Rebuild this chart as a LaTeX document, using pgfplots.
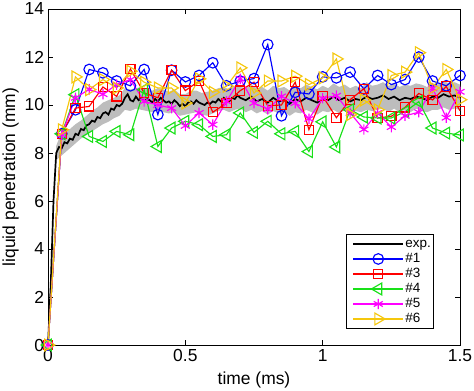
\documentclass[border=0pt]{standalone}
\usepackage{fontspec}
\setmainfont{Liberation Sans}
\usepackage{pgfplots}
\usepackage{pgfplotstable}
\pgfplotsset{compat=1.18}
\usepgfplotslibrary{fillbetween}
\definecolor{cblue}{rgb}{0,0,1}
\definecolor{cred}{rgb}{1,0,0}
\definecolor{cgreen}{rgb}{0.1,0.88,0.1}
\definecolor{cmag}{rgb}{1,0,1}
\definecolor{cyel}{rgb}{0.96,0.78,0.05}
\definecolor{cband}{rgb}{0.74,0.74,0.74}

\pgfplotstableread{
x y
0 0
0.01 2.5
0.02 6.0
0.03 8.0
0.04 8.25
0.05 8.2
0.06 8.45
0.07 8.4
0.08 8.6
0.09 8.55
0.10 8.8
0.11 8.75
0.12 9.0
0.13 8.95
0.14 9.15
0.15 9.2
0.16 9.35
0.17 9.3
0.18 9.5
0.19 9.45
0.20 9.65
0.21 9.7
0.22 9.6
0.23 9.85
0.24 9.8
0.25 10.0
0.26 9.95
0.27 10.05
0.28 10.3
0.29 10.45
0.30 10.2
0.31 10.15
0.32 10.35
0.33 10.2
0.34 10.3
0.35 10.15
0.36 10.25
0.37 10.2
0.38 10.1
0.39 10.25
0.40 10.15
0.41 10.3
0.42 10.2
0.43 10.1
0.44 10.15
0.45 10.05
0.46 10.2
0.47 10.1
0.48 9.95
0.49 10.05
0.50 9.95
0.51 10.1
0.52 10.15
0.53 10.05
0.54 10.2
0.55 10.1
0.56 10.05
0.57 10.0
0.58 10.1
0.59 10.05
0.60 10.15
0.61 10.1
0.62 10.25
0.63 10.15
0.64 10.3
0.65 10.2
0.66 10.15
0.67 10.3
0.68 10.25
0.69 10.4
0.70 10.3
0.72 10.2
0.74 10.35
0.76 10.15
0.78 10.25
0.80 10.1
0.82 10.3
0.84 10.15
0.86 10.2
0.88 10.05
0.90 10.25
0.92 10.15
0.94 10.3
0.96 10.2
0.98 10.1
1.00 10.25
1.02 10.2
1.04 10.35
1.06 10.2
1.08 10.3
1.10 10.15
1.12 10.25
1.14 10.2
1.16 10.35
1.18 10.25
1.20 10.3
1.22 10.4
1.24 10.25
1.26 10.35
1.28 10.2
1.30 10.3
1.32 10.25
1.34 10.35
1.36 10.3
1.38 10.2
1.40 10.35
1.42 10.3
1.44 10.45
1.46 10.35
1.48 10.4
1.50 10.3
}\exptable

\pgfplotstableread{
x lo hi
0.03 7.7 8.3
0.04 7.8 8.6
0.06 8.0 8.9
0.08 8.2 9.0
0.10 8.4 9.2
0.12 8.6 9.35
0.14 8.75 9.55
0.16 8.9 9.75
0.18 9.05 9.9
0.20 9.2 10.1
0.22 9.3 10.2
0.24 9.45 10.3
0.26 9.55 10.4
0.28 9.8 10.7
0.30 9.75 10.65
0.32 9.85 10.7
0.34 9.8 10.75
0.36 9.75 10.65
0.38 9.7 10.6
0.40 9.75 10.7
0.42 9.7 10.65
0.44 9.65 10.55
0.46 9.7 10.65
0.48 9.55 10.45
0.50 9.6 10.45
0.52 9.65 10.6
0.54 9.7 10.6
0.56 9.6 10.5
0.58 9.55 10.55
0.60 9.65 10.6
0.62 9.75 10.7
0.64 9.8 10.75
0.66 9.7 10.65
0.68 9.8 10.8
0.70 9.85 10.75
0.72 9.7 10.7
0.74 9.8 10.85
0.76 9.65 10.7
0.78 9.75 10.75
0.80 9.6 10.6
0.82 9.75 10.8
0.84 9.65 10.7
0.86 9.7 10.75
0.88 9.55 10.6
0.90 9.7 10.8
0.92 9.65 10.7
0.94 9.8 10.85
0.96 9.7 10.75
0.98 9.6 10.65
1.00 9.75 10.8
1.02 9.7 10.7
1.04 9.8 10.9
1.06 9.65 10.75
1.08 9.8 10.85
1.10 9.6 10.7
1.12 9.75 10.8
1.14 9.7 10.7
1.16 9.8 10.95
1.18 9.75 10.8
1.20 9.8 10.85
1.22 9.85 10.95
1.24 9.7 10.8
1.26 9.85 10.9
1.28 9.7 10.75
1.30 9.8 10.85
1.32 9.7 10.8
1.34 9.85 10.9
1.36 9.75 10.85
1.38 9.7 10.75
1.40 9.8 10.9
1.42 9.8 10.85
1.44 9.9 11.0
1.46 9.8 10.9
1.48 9.85 10.95
1.50 9.8 10.85
}\bandtable

\pgfplotstableread{
x s1 s3 s4 s5 s6
0 0 0 0 0 0
0.05 8.8 8.8 8.8 8.76 8.97
0.10 9.8 9.87 10.43 10.3 11.17
0.15 11.48 9.94 8.69 10.65 10.64
0.20 11.34 10.75 8.48 10.45 11.06
0.25 11.0 10.36 8.9 10.85 10.71
0.30 10.8 11.5 8.76 11.06 11.41
0.35 11.48 10.5 10.64 10.15 10.95
0.40 9.6 10.3 8.27 10.0 10.71
0.45 11.45 11.45 9.04 9.87 10.71
0.50 10.96 10.6 9.32 9.13 10.08
0.55 11.23 11.0 9.18 9.67 11.09
0.60 11.76 9.7 8.69 9.18 10.53
0.65 10.8 10.08 8.76 10.15 10.78
0.70 11.0 10.6 9.67 11.09 11.55
0.75 11.1 10.95 8.86 10.08 10.5
0.80 12.52 9.97 9.32 9.83 11.0
0.85 9.55 10.0 8.8 10.36 11.0
0.90 10.53 10.95 8.9 10.08 11.2
0.95 10.46 8.97 8.06 9.42 10.85
1.00 11.17 10.37 9.3 10.28 11.13
1.05 11.13 9.47 8.25 10.39 11.92
1.10 11.37 10.22 9.8 9.67 9.6
1.15 10.67 10.68 9.5 8.98 10.21
1.20 11.23 9.46 9.46 9.67 9.8
1.25 10.85 9.53 9.46 9.08 11.23
1.30 11.06 9.9 9.72 9.55 11.37
1.35 12.0 10.48 10.14 9.7 12.18
1.40 11.0 10.21 9.04 10.7 10.71
1.45 10.8 10.77 8.83 9.47 11.48
1.50 11.23 9.76 8.75 10.55 10.22
}\simtable

\begin{document}
\begin{tikzpicture}
\begin{axis}[
  scale only axis,
  width=412bp, height=336bp,
  xmin=0, xmax=1.5, ymin=0, ymax=14,
  xtick={0,0.5,1,1.5},
  ytick={0,2,4,6,8,10,12,14},
  tick align=inside,
  xtick pos=both, ytick pos=both,
  major tick length=5bp,
  /pgf/number format/assume math mode=true,
  tick label style={font=\fontsize{17.5}{20}\selectfont},
  label style={font=\fontsize{17.5}{20}\selectfont},
  xticklabel style={yshift=-1bp},
  yticklabel style={xshift=-0.5bp},
  xlabel={time (ms)},
  ylabel={liquid penetration (mm)},
  xlabel style={yshift=-3bp},
  ylabel style={yshift=-1bp},
  axis line style={line width=0.8pt},
  every tick/.style={black, line width=0.7pt},
  clip=false,
  legend cell align=left,
  legend style={at={(0.937,0.048)}, anchor=south east,
    font=\fontsize{13.5}{14}\selectfont, draw=black, line width=0.8pt,
    inner xsep=1.5bp, inner ysep=2bp, row sep=0bp,
    nodes={inner sep=1.3bp, text height=9.8bp, text depth=2.6bp}},
  legend image code/.code={%
    \path (-5bp,0bp);
    \draw[mark repeat=2,mark phase=2,#1] plot coordinates {(0bp,0bp) (25bp,0bp) (50bp,0bp)};},
]
\addplot[name path=hi, draw=none, forget plot] table[x=x, y=hi] {\bandtable};
\addplot[name path=lo, draw=none, forget plot] table[x=x, y=lo] {\bandtable};
\addplot[cband, forget plot] fill between[of=hi and lo];
\addplot[black, line width=1.7pt] table[x=x, y=y] {\exptable};
\addlegendentry{exp.}
\addplot[cblue, line width=1.15pt, mark=o, mark size=5.3bp, mark options={solid}] table[x=x, y=s1] {\simtable};
\addlegendentry{\#1}
\addplot[cred, line width=1.15pt, mark=square, mark size=4.6bp] table[x=x, y=s3] {\simtable};
\addlegendentry{\#3}
\addplot[cgreen, line width=1.15pt, mark=triangle, mark size=6.8bp, mark options={rotate=90}] table[x=x, y=s4] {\simtable};
\addlegendentry{\#4}
\addplot[cmag, line width=1.15pt, mark=asterisk, mark size=5.2bp] table[x=x, y=s5] {\simtable};
\addlegendentry{\#5}
\addplot[cyel, line width=1.15pt, mark=triangle, mark size=6.8bp, mark options={rotate=-90}] table[x=x, y=s6] {\simtable};
\addlegendentry{\#6}
\end{axis}
\pgfresetboundingbox
\path (-48bp,-46bp) rectangle (426bp,345bp);
\end{tikzpicture}
\end{document}
